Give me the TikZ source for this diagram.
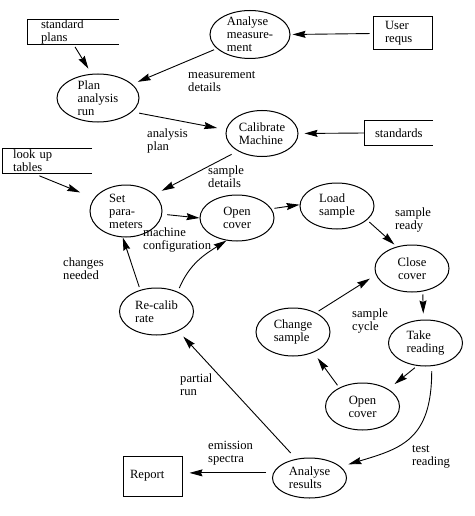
\documentclass[tikz,border=0pt]{standalone}
\usepackage{fontspec}
\setmainfont{Liberation Serif}
\usetikzlibrary{shapes.geometric,arrows.meta}
\begin{document}
\begin{tikzpicture}[x=1pt,y=-1pt,font=\fontsize{12.6}{13}\selectfont]
        \tikzstyle{proc} = [draw, ellipse, line width=1pt, align=left, inner xsep=0pt, inner ysep=-4pt, minimum width=74pt, minimum height=46pt]
        \tikzstyle{ext} = [draw, line width=1pt, align=left, inner ysep=0pt]
        \tikzstyle{store} = [align=left, inner ysep=0pt, minimum height=24pt]
        \tikzstyle{lbl} = [align=left, anchor=west, inner sep=0pt]
        \tikzstyle{flow} = [draw, black, line width=0.9pt, -{Stealth[length=13pt,width=7pt,inset=1.5pt]}, shorten <=3pt, shorten >=6pt]

        \useasboundingbox (0,0) rectangle (474,516);

        \node[proc, minimum width=80pt, minimum height=48pt] (am) at (250,34.5) {Analyse\\measure-\\ment};
        \node[ext, minimum height=33pt, text width=35pt, inner xsep=12pt] (ur) at (402.5,33.5) {User\\requs};
        \node[store, text width=65pt, inner xsep=13pt] (sp) at (73.5,32) {standard\\plans};
        \node[proc, minimum width=82pt, minimum height=48pt] (plan) at (98,98) {Plan\\analysis\\run};
        \node[proc, minimum width=72pt, minimum height=46pt] (cal) at (262,133.5) {Calibrate\\Machine};
        \node[store, text width=48pt, inner xsep=10pt] (std) at (399,133) {standards};
        \node[store, text width=69pt, inner xsep=10pt] (lut) at (47.5,161) {look up\\tables};
        \node[proc, minimum width=72pt, minimum height=52pt] (setp) at (126,211) {Set\\para-\\meters};
        \node[proc, align=center] (oc1) at (237,218) {Open\\cover};
        \node[proc] (ls) at (337,206) {Load\\sample};
        \node[proc, align=center, minimum height=47pt] (cc) at (412,268.5) {Close\\cover};
        \node[proc, minimum height=48pt] (cs) at (293,332) {Change\\sample};
        \node[proc] (tr) at (425.5,343) {Take\\reading};
        \node[proc, align=center, minimum height=47pt] (oc2) at (362.5,406.5) {Open\\cover};
        \node[proc, minimum height=40pt] (ar) at (309.5,478) {Analyse\\results};
        \node[proc, minimum height=47pt] (rc) at (156.5,311.5) {Re-calib\\rate};
        \node[ext, minimum height=40pt, text width=45pt, inner xsep=7pt] (rep) at (152.5,476) {Report};

        % open stores
        \foreach \s in {sp,lut,std}
            \draw[line width=1pt] (\s.north east) -| (\s.south west) -- (\s.south east);

        \node[lbl] (l-md) at (188,82) {measurement\\details};
        \node[lbl] (l-ap) at (147,141) {analysis\\plan};
        \node[lbl] (l-sd) at (208,176.5) {sample\\details};
        \node[lbl] (l-mc) at (143,240) {machine\\configuration};
        \node[lbl] (l-sr) at (395,220) {sample\\ready};
        \node[lbl] (l-sc) at (352,321) {sample\\cycle};
        \node[lbl] (l-cn) at (63,269) {changes\\needed};
        \node[lbl] (l-pr) at (180,385) {partial\\run};
        \node[lbl] (l-es) at (208,453.5) {emission\\spectra};
        \node[lbl] (l-tr) at (412,457) {test\\reading};

        \path[flow] (sp.south) to (plan.105);
        \path[flow] (am.203) to (plan.22);
        \path[flow, shorten >=2pt] (ur.west) to (am.east);
        \path[flow, shorten <=7pt, shorten >=9pt] (plan.-22) to (cal.174);
        \path[flow, shorten <=1pt] (std.west) to (cal.east);
        \path[flow, shorten <=7pt, shorten >=8pt] (cal.216) to (setp.30);
        \path[flow, shorten <=7pt, shorten >=15pt] (lut.-140) to (setp.158);
        \path[flow, shorten <=5pt, shorten >=0pt] (setp.-5) to (oc1.180);
        \path[flow, shorten >=0pt] (oc1.15) to (ls.178);
        \path[flow, shorten >=3pt] (ls.-25) to (cc.125);
        \path[flow] (cc.-65) to (tr.95);
        \path[flow, shorten >=7pt] (cs.40) to (cc.190);
        \path[flow, shorten >=8pt] (tr.-110) to (oc2.34);
        \path[flow, shorten >=7pt] (oc2.141) to (cs.-45);
        \path[flow, shorten <=5pt, shorten >=8pt] (tr.-75) .. controls +(0,74) and +(60,-18) .. (ar.20);
        \path[flow, shorten <=8pt, shorten >=7.5pt] (ar.125) to (rc.-42);
        \path[flow, shorten <=7pt, shorten >=7pt] (ar.172) to (rep.east |- ar.172);
        \path[flow, shorten >=0pt] (rc.127) to (setp.-97);
        \path[flow, shorten <=4pt, shorten >=0pt] (rc.43) .. controls +(12,-28) and +(-22,14) .. (oc1.-115);
    \end{tikzpicture}
\end{document}
